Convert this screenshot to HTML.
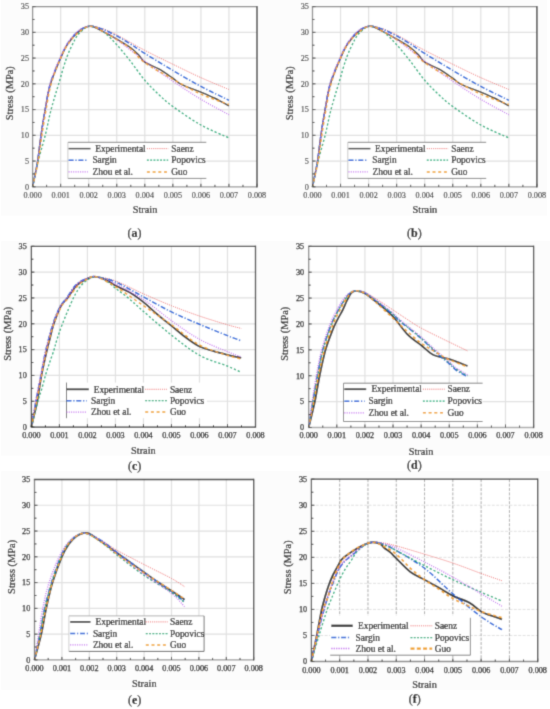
<!DOCTYPE html>
<html><head><meta charset="utf-8"><style>
html,body{margin:0;padding:0;background:#fff;width:550px;height:709px;overflow:hidden}
svg{display:block}
text{font-family:'Liberation Serif', 'Times New Roman', serif;fill:#111;stroke:#111;stroke-width:0.22px}
.tl{fill:#2a2a2a;stroke:#2a2a2a;stroke-width:0.1px}
.tl2{fill:#111;stroke:#111;stroke-width:0.25px}
</style></head><body>
<svg width="550" height="709" viewBox="0 0 550 709">
<defs><filter id="bl" x="0" y="0" width="550" height="709" filterUnits="userSpaceOnUse"><feConvolveMatrix order="3" kernelMatrix="0.0225 0.1050 0.0225 0.1050 0.4900 0.1050 0.0225 0.1050 0.0225" preserveAlpha="true" edgeMode="duplicate"/></filter></defs>
<g filter="url(#bl)">
<rect x="0" y="0" width="550" height="709" fill="#fff"/>
<rect x="1" y="0" width="280" height="215.5" fill="#fcfcfc"/>
<rect x="281" y="0" width="266" height="215.5" fill="#fcfcfc"/>
<rect x="1" y="241" width="280" height="214.5" fill="#fcfcfc"/>
<rect x="281" y="241" width="269" height="214.5" fill="#fcfcfc"/>
<rect x="1" y="471" width="280" height="219" fill="#fcfcfc"/>
<rect x="281" y="471" width="269" height="219" fill="#fcfcfc"/>
<rect x="32.60" y="6.60" width="224.40" height="180.20" fill="#fff"/>
<path d="M32.60,161.06H257.00M32.60,135.31H257.00M32.60,109.57H257.00M32.60,83.83H257.00M32.60,58.09H257.00M32.60,32.34H257.00" stroke="#e0e0e0" stroke-width="1.2" stroke-dasharray="none" fill="none"/>
<path d="M60.65,6.60V186.80M88.70,6.60V186.80M116.75,6.60V186.80M144.80,6.60V186.80M172.85,6.60V186.80M200.90,6.60V186.80M228.95,6.60V186.80" stroke="#e0e0e0" stroke-width="1.2" stroke-dasharray="none" fill="none"/>
<path d="M32.60,186.80 C33.44,182.51 36.25,169.64 37.65,161.06 C39.05,152.48 39.75,143.90 41.02,135.31 C42.28,126.73 43.63,118.15 45.22,109.57 C46.81,100.99 47.98,92.41 50.55,83.83 C53.12,75.25 57.75,64.78 60.65,58.09 C63.55,51.39 64.90,48.13 67.94,43.67 C70.98,39.21 75.19,34.23 78.88,31.31 C82.58,28.40 86.13,26.16 90.10,26.16 C94.08,26.16 98.28,29.17 102.72,31.31 C107.17,33.46 112.08,36.29 116.75,39.04 C121.42,41.78 127.04,45.04 130.78,47.79 C134.52,50.53 136.85,53.11 139.19,55.51 C141.53,57.91 141.53,59.97 144.80,62.20 C148.07,64.44 154.15,66.24 158.83,68.90 C163.50,71.56 169.11,75.59 172.85,78.17 C176.59,80.74 176.59,82.03 181.26,84.34 C185.94,86.66 195.29,89.75 200.90,92.07 C206.51,94.38 210.25,95.93 214.93,98.24 C219.60,100.56 226.61,104.68 228.95,105.97" stroke="#303030" stroke-width="1.45" fill="none" stroke-linejoin="round"/>
<path d="M32.60,186.80 C33.44,182.51 36.25,169.64 37.65,161.06 C39.05,152.48 39.75,143.90 41.02,135.31 C42.28,126.73 43.68,118.15 45.22,109.57 C46.77,100.99 47.75,92.41 50.27,83.83 C52.80,75.25 57.47,64.78 60.37,58.09 C63.27,51.39 64.67,48.13 67.66,43.67 C70.65,39.21 74.58,34.23 78.32,31.31 C82.06,28.40 86.04,26.59 90.10,26.16 C94.17,25.74 98.28,27.28 102.72,28.74 C107.17,30.20 109.74,31.31 116.75,34.92 C123.76,38.52 135.45,45.47 144.80,50.36 C154.15,55.25 163.50,59.72 172.85,64.26 C182.20,68.81 191.55,73.45 200.90,77.65 C210.25,81.85 224.27,87.52 228.95,89.49" stroke="#ec5656" stroke-width="0.9" stroke-dasharray="1 1.1" fill="none" stroke-linejoin="round"/>
<path d="M32.60,186.80 C33.44,182.51 36.25,169.64 37.65,161.06 C39.05,152.48 39.75,143.90 41.02,135.31 C42.28,126.73 43.68,118.15 45.22,109.57 C46.77,100.99 47.75,92.41 50.27,83.83 C52.80,75.25 57.47,64.78 60.37,58.09 C63.27,51.39 64.67,48.13 67.66,43.67 C70.65,39.21 74.58,34.23 78.32,31.31 C82.06,28.40 86.04,26.51 90.10,26.16 C94.17,25.82 98.28,27.62 102.72,29.25 C107.17,30.88 112.08,33.46 116.75,35.95 C121.42,38.44 126.10,41.27 130.78,44.18 C135.45,47.10 137.79,49.08 144.80,53.45 C151.81,57.83 163.50,64.95 172.85,70.44 C182.20,75.93 191.55,81.43 200.90,86.40 C210.25,91.38 224.27,97.99 228.95,100.30" stroke="#0f5fd8" stroke-width="1.5" stroke-dasharray="5 1.8 1.2 1.8" fill="none" stroke-linejoin="round"/>
<path d="M32.60,186.80 C33.54,182.51 36.11,169.64 38.21,161.06 C40.31,152.48 43.07,143.90 45.22,135.31 C47.37,126.73 48.87,118.15 51.11,109.57 C53.36,100.99 56.12,92.41 58.69,83.83 C61.26,75.25 63.88,65.38 66.54,58.09 C69.21,50.79 72.38,44.36 74.68,40.07 C76.97,35.78 77.71,34.66 80.28,32.34 C82.86,30.03 86.36,26.34 90.10,26.16 C93.84,25.99 98.28,28.22 102.72,31.31 C107.17,34.40 112.08,39.64 116.75,44.70 C121.42,49.76 126.10,55.77 130.78,61.69 C135.45,67.61 140.12,74.73 144.80,80.22 C149.48,85.72 154.15,90.26 158.83,94.64 C163.50,99.02 165.84,101.42 172.85,106.48 C179.86,111.55 191.55,119.78 200.90,125.02 C210.25,130.25 224.27,135.74 228.95,137.89" stroke="#06a870" stroke-width="1.3" stroke-dasharray="2.2 2" fill="none" stroke-linejoin="round"/>
<path d="M32.60,186.80 C33.44,182.51 36.25,169.64 37.65,161.06 C39.05,152.48 39.75,143.90 41.02,135.31 C42.28,126.73 43.73,118.15 45.22,109.57 C46.72,100.99 47.56,92.41 49.99,83.83 C52.42,75.25 56.96,64.78 59.81,58.09 C62.66,51.39 64.11,48.13 67.10,43.67 C70.09,39.21 73.93,34.23 77.76,31.31 C81.59,28.40 85.94,26.25 90.10,26.16 C94.26,26.08 98.28,28.57 102.72,30.80 C107.17,33.03 109.74,34.49 116.75,39.55 C123.76,44.61 135.45,54.22 144.80,61.17 C154.15,68.13 163.50,74.90 172.85,81.25 C182.20,87.60 191.55,93.70 200.90,99.27 C210.25,104.85 224.27,112.15 228.95,114.72" stroke="#bf5fee" stroke-width="1.2" stroke-dasharray="1 1.3" fill="none" stroke-linejoin="round"/>
<path d="M32.60,186.80 C33.54,182.51 36.67,169.64 38.21,161.06 C39.75,152.48 40.55,143.90 41.86,135.31 C43.17,126.73 44.52,118.15 46.06,109.57 C47.61,100.99 48.68,92.41 51.11,83.83 C53.54,75.25 57.89,64.61 60.65,58.09 C63.41,51.56 64.86,48.82 67.66,44.70 C70.47,40.58 73.74,36.46 77.48,33.37 C81.22,30.28 85.90,26.51 90.10,26.16 C94.31,25.82 98.28,29.08 102.72,31.31 C107.17,33.54 112.08,36.63 116.75,39.55 C121.42,42.47 126.10,44.96 130.78,48.82 C135.45,52.68 137.79,57.66 144.80,62.72 C151.81,67.78 163.50,73.96 172.85,79.19 C182.20,84.43 191.55,89.92 200.90,94.13 C210.25,98.33 224.27,102.71 228.95,104.42" stroke="#f0a020" stroke-width="1.5" stroke-dasharray="3 2.7" fill="none" stroke-linejoin="round"/>
<rect x="67.90" y="142.30" width="138.40" height="36.10" fill="#fff"/>
<path d="M67.90,142.30H206.30" stroke="#808080" stroke-width="1" fill="none"/>
<path d="M67.90,178.40H206.30" stroke="#808080" stroke-width="1" fill="none"/>
<path d="M67.90,142.30V178.40" stroke="#c4c4c4" stroke-width="0.9" fill="none"/>
<path d="M68.60,148.60H90.50" stroke="#303030" stroke-width="1.45" fill="none"/>
<text x="95.20" y="151.80" font-size="9.4">Experimental</text>
<path d="M146.90,148.60H168.20" stroke="#ec5656" stroke-width="0.9" stroke-dasharray="1 1.1" fill="none"/>
<text x="171.30" y="151.80" font-size="9.4">Saenz</text>
<path d="M68.60,160.20H87.80" stroke="#0f5fd8" stroke-width="1.5" stroke-dasharray="5 1.8 1.2 1.8" fill="none"/>
<text x="92.40" y="163.40" font-size="9.4">Sargin</text>
<path d="M146.90,160.20H168.20" stroke="#06a870" stroke-width="1.3" stroke-dasharray="1.9 1.4" fill="none"/>
<text x="171.30" y="163.40" font-size="9.4">Popovics</text>
<path d="M68.60,171.90H87.80" stroke="#bf5fee" stroke-width="1.2" stroke-dasharray="1 1.3" fill="none"/>
<text x="92.60" y="175.10" font-size="9.4">Zhou et al.</text>
<path d="M146.90,171.90H168.20" stroke="#f0a020" stroke-width="1.5" stroke-dasharray="3 2.7" fill="none"/>
<text x="171.30" y="175.10" font-size="9.4">Guo</text>
<path d="M31.95,6.60H257.00" stroke="#858585" stroke-width="1.3" fill="none"/>
<path d="M31.95,186.80H257.00" stroke="#999" stroke-width="1.3" fill="none"/>
<path d="M32.60,6.60V186.80" stroke="#8a8a8a" stroke-width="1.3" fill="none"/>
<path d="M257.00,5.95V187.45" stroke="#5a5a5a" stroke-width="1.7" fill="none"/>
<path d="M32.60,186.80v-3.00M46.62,186.80v-2.00M60.65,186.80v-3.00M74.68,186.80v-2.00M88.70,186.80v-3.00M102.72,186.80v-2.00M116.75,186.80v-3.00M130.78,186.80v-2.00M144.80,186.80v-3.00M158.83,186.80v-2.00M172.85,186.80v-3.00M186.88,186.80v-2.00M200.90,186.80v-3.00M214.93,186.80v-2.00M228.95,186.80v-3.00M242.97,186.80v-2.00M257.00,186.80v-3.00M32.60,186.80h3.00M32.60,173.93h2.00M32.60,161.06h3.00M32.60,148.19h2.00M32.60,135.31h3.00M32.60,122.44h2.00M32.60,109.57h3.00M32.60,96.70h2.00M32.60,83.83h3.00M32.60,70.96h2.00M32.60,58.09h3.00M32.60,45.21h2.00M32.60,32.34h3.00M32.60,19.47h2.00M32.60,6.60h3.00" stroke="#333" stroke-width="1" fill="none"/>
<text x="29.00" y="189.60" font-size="8.2" text-anchor="end" class="tl">0</text>
<text x="29.00" y="163.86" font-size="8.2" text-anchor="end" class="tl">5</text>
<text x="29.00" y="138.11" font-size="8.2" text-anchor="end" class="tl">10</text>
<text x="29.00" y="112.37" font-size="8.2" text-anchor="end" class="tl">15</text>
<text x="29.00" y="86.63" font-size="8.2" text-anchor="end" class="tl">20</text>
<text x="29.00" y="60.89" font-size="8.2" text-anchor="end" class="tl">25</text>
<text x="29.00" y="35.14" font-size="8.2" text-anchor="end" class="tl">30</text>
<text x="29.00" y="9.40" font-size="8.2" text-anchor="end" class="tl">35</text>
<text x="32.60" y="197.50" font-size="8.2" text-anchor="middle" class="tl">0.000</text>
<text x="60.65" y="197.50" font-size="8.2" text-anchor="middle" class="tl">0.001</text>
<text x="88.70" y="197.50" font-size="8.2" text-anchor="middle" class="tl">0.002</text>
<text x="116.75" y="197.50" font-size="8.2" text-anchor="middle" class="tl">0.003</text>
<text x="144.80" y="197.50" font-size="8.2" text-anchor="middle" class="tl">0.004</text>
<text x="172.85" y="197.50" font-size="8.2" text-anchor="middle" class="tl">0.005</text>
<text x="200.90" y="197.50" font-size="8.2" text-anchor="middle" class="tl">0.006</text>
<text x="228.95" y="197.50" font-size="8.2" text-anchor="middle" class="tl">0.007</text>
<text x="257.00" y="197.50" font-size="8.2" text-anchor="middle" class="tl">0.008</text>
<text transform="translate(12.70,93.20) rotate(-90)" font-size="10.4" text-anchor="middle">Stress (MPa)</text>
<text x="145.00" y="213.00" font-size="10.3" text-anchor="middle">Strain</text>
<text x="134.60" y="237.40" font-size="12" text-anchor="middle">(<tspan font-weight="bold">a</tspan>)</text>
<rect x="312.50" y="6.60" width="224.40" height="180.20" fill="#fff"/>
<path d="M312.50,161.06H536.90M312.50,135.31H536.90M312.50,109.57H536.90M312.50,83.83H536.90M312.50,58.09H536.90M312.50,32.34H536.90" stroke="#e0e0e0" stroke-width="1.2" stroke-dasharray="none" fill="none"/>
<path d="M340.55,6.60V186.80M368.60,6.60V186.80M396.65,6.60V186.80M424.70,6.60V186.80M452.75,6.60V186.80M480.80,6.60V186.80M508.85,6.60V186.80" stroke="#e0e0e0" stroke-width="1.2" stroke-dasharray="none" fill="none"/>
<path d="M312.50,186.80 C313.34,182.51 316.15,169.64 317.55,161.06 C318.95,152.48 319.65,143.90 320.92,135.31 C322.18,126.73 323.53,118.15 325.12,109.57 C326.71,100.99 327.88,92.41 330.45,83.83 C333.02,75.25 337.65,64.78 340.55,58.09 C343.45,51.39 344.80,48.13 347.84,43.67 C350.88,39.21 355.09,34.23 358.78,31.31 C362.48,28.40 366.03,26.16 370.00,26.16 C373.98,26.16 378.18,29.17 382.62,31.31 C387.07,33.46 391.97,36.29 396.65,39.04 C401.32,41.78 406.93,45.04 410.67,47.79 C414.41,50.53 416.75,53.11 419.09,55.51 C421.43,57.91 421.43,59.97 424.70,62.20 C427.97,64.44 434.05,66.24 438.73,68.90 C443.40,71.56 449.01,75.59 452.75,78.17 C456.49,80.74 456.49,82.03 461.16,84.34 C465.84,86.66 475.19,89.75 480.80,92.07 C486.41,94.38 490.15,95.93 494.82,98.24 C499.50,100.56 506.51,104.68 508.85,105.97" stroke="#303030" stroke-width="1.45" fill="none" stroke-linejoin="round"/>
<path d="M312.50,186.80 C313.34,182.51 316.15,169.64 317.55,161.06 C318.95,152.48 319.65,143.90 320.92,135.31 C322.18,126.73 323.58,118.15 325.12,109.57 C326.67,100.99 327.65,92.41 330.17,83.83 C332.70,75.25 337.37,64.78 340.27,58.09 C343.17,51.39 344.57,48.13 347.56,43.67 C350.55,39.21 354.48,34.23 358.22,31.31 C361.96,28.40 365.94,26.59 370.00,26.16 C374.07,25.74 378.18,27.28 382.62,28.74 C387.07,30.20 389.64,31.31 396.65,34.92 C403.66,38.52 415.35,45.47 424.70,50.36 C434.05,55.25 443.40,59.72 452.75,64.26 C462.10,68.81 471.45,73.45 480.80,77.65 C490.15,81.85 504.17,87.52 508.85,89.49" stroke="#ec5656" stroke-width="0.9" stroke-dasharray="1 1.1" fill="none" stroke-linejoin="round"/>
<path d="M312.50,186.80 C313.34,182.51 316.15,169.64 317.55,161.06 C318.95,152.48 319.65,143.90 320.92,135.31 C322.18,126.73 323.58,118.15 325.12,109.57 C326.67,100.99 327.65,92.41 330.17,83.83 C332.70,75.25 337.37,64.78 340.27,58.09 C343.17,51.39 344.57,48.13 347.56,43.67 C350.55,39.21 354.48,34.23 358.22,31.31 C361.96,28.40 365.94,26.51 370.00,26.16 C374.07,25.82 378.18,27.62 382.62,29.25 C387.07,30.88 391.97,33.46 396.65,35.95 C401.32,38.44 406.00,41.27 410.67,44.18 C415.35,47.10 417.69,49.08 424.70,53.45 C431.71,57.83 443.40,64.95 452.75,70.44 C462.10,75.93 471.45,81.43 480.80,86.40 C490.15,91.38 504.17,97.99 508.85,100.30" stroke="#0f5fd8" stroke-width="1.5" stroke-dasharray="5 1.8 1.2 1.8" fill="none" stroke-linejoin="round"/>
<path d="M312.50,186.80 C313.44,182.51 316.01,169.64 318.11,161.06 C320.21,152.48 322.97,143.90 325.12,135.31 C327.27,126.73 328.77,118.15 331.01,109.57 C333.26,100.99 336.02,92.41 338.59,83.83 C341.16,75.25 343.78,65.38 346.44,58.09 C349.11,50.79 352.28,44.36 354.57,40.07 C356.87,35.78 357.61,34.66 360.19,32.34 C362.76,30.03 366.26,26.34 370.00,26.16 C373.74,25.99 378.18,28.22 382.62,31.31 C387.07,34.40 391.97,39.64 396.65,44.70 C401.32,49.76 406.00,55.77 410.67,61.69 C415.35,67.61 420.02,74.73 424.70,80.22 C429.38,85.72 434.05,90.26 438.73,94.64 C443.40,99.02 445.74,101.42 452.75,106.48 C459.76,111.55 471.45,119.78 480.80,125.02 C490.15,130.25 504.17,135.74 508.85,137.89" stroke="#06a870" stroke-width="1.3" stroke-dasharray="2.2 2" fill="none" stroke-linejoin="round"/>
<path d="M312.50,186.80 C313.34,182.51 316.15,169.64 317.55,161.06 C318.95,152.48 319.65,143.90 320.92,135.31 C322.18,126.73 323.63,118.15 325.12,109.57 C326.62,100.99 327.46,92.41 329.89,83.83 C332.32,75.25 336.86,64.78 339.71,58.09 C342.56,51.39 344.01,48.13 347.00,43.67 C349.99,39.21 353.83,34.23 357.66,31.31 C361.49,28.40 365.84,26.25 370.00,26.16 C374.16,26.08 378.18,28.57 382.62,30.80 C387.07,33.03 389.64,34.49 396.65,39.55 C403.66,44.61 415.35,54.22 424.70,61.17 C434.05,68.13 443.40,74.90 452.75,81.25 C462.10,87.60 471.45,93.70 480.80,99.27 C490.15,104.85 504.17,112.15 508.85,114.72" stroke="#bf5fee" stroke-width="1.2" stroke-dasharray="1 1.3" fill="none" stroke-linejoin="round"/>
<path d="M312.50,186.80 C313.44,182.51 316.57,169.64 318.11,161.06 C319.65,152.48 320.45,143.90 321.76,135.31 C323.07,126.73 324.42,118.15 325.96,109.57 C327.51,100.99 328.58,92.41 331.01,83.83 C333.44,75.25 337.79,64.61 340.55,58.09 C343.31,51.56 344.76,48.82 347.56,44.70 C350.37,40.58 353.64,36.46 357.38,33.37 C361.12,30.28 365.80,26.51 370.00,26.16 C374.21,25.82 378.18,29.08 382.62,31.31 C387.07,33.54 391.97,36.63 396.65,39.55 C401.32,42.47 406.00,44.96 410.67,48.82 C415.35,52.68 417.69,57.66 424.70,62.72 C431.71,67.78 443.40,73.96 452.75,79.19 C462.10,84.43 471.45,89.92 480.80,94.13 C490.15,98.33 504.17,102.71 508.85,104.42" stroke="#f0a020" stroke-width="1.5" stroke-dasharray="3 2.7" fill="none" stroke-linejoin="round"/>
<rect x="347.80" y="142.30" width="138.40" height="36.10" fill="#fff"/>
<path d="M347.80,142.30H486.20" stroke="#808080" stroke-width="1" fill="none"/>
<path d="M347.80,178.40H486.20" stroke="#808080" stroke-width="1" fill="none"/>
<path d="M347.80,142.30V178.40" stroke="#c4c4c4" stroke-width="0.9" fill="none"/>
<path d="M348.50,148.60H370.40" stroke="#303030" stroke-width="1.45" fill="none"/>
<text x="375.10" y="151.80" font-size="9.4">Experimental</text>
<path d="M426.80,148.60H448.10" stroke="#ec5656" stroke-width="0.9" stroke-dasharray="1 1.1" fill="none"/>
<text x="451.20" y="151.80" font-size="9.4">Saenz</text>
<path d="M348.50,160.20H367.70" stroke="#0f5fd8" stroke-width="1.5" stroke-dasharray="5 1.8 1.2 1.8" fill="none"/>
<text x="372.30" y="163.40" font-size="9.4">Sargin</text>
<path d="M426.80,160.20H448.10" stroke="#06a870" stroke-width="1.3" stroke-dasharray="1.9 1.4" fill="none"/>
<text x="451.20" y="163.40" font-size="9.4">Popovics</text>
<path d="M348.50,171.90H367.70" stroke="#bf5fee" stroke-width="1.2" stroke-dasharray="1 1.3" fill="none"/>
<text x="372.50" y="175.10" font-size="9.4">Zhou et al.</text>
<path d="M426.80,171.90H448.10" stroke="#f0a020" stroke-width="1.5" stroke-dasharray="3 2.7" fill="none"/>
<text x="451.20" y="175.10" font-size="9.4">Guo</text>
<path d="M311.85,6.60H536.90" stroke="#858585" stroke-width="1.3" fill="none"/>
<path d="M311.85,186.80H536.90" stroke="#999" stroke-width="1.3" fill="none"/>
<path d="M312.50,6.60V186.80" stroke="#8a8a8a" stroke-width="1.3" fill="none"/>
<path d="M536.90,5.95V187.45" stroke="#5a5a5a" stroke-width="1.7" fill="none"/>
<path d="M312.50,186.80v-3.00M326.52,186.80v-2.00M340.55,186.80v-3.00M354.57,186.80v-2.00M368.60,186.80v-3.00M382.62,186.80v-2.00M396.65,186.80v-3.00M410.67,186.80v-2.00M424.70,186.80v-3.00M438.73,186.80v-2.00M452.75,186.80v-3.00M466.77,186.80v-2.00M480.80,186.80v-3.00M494.82,186.80v-2.00M508.85,186.80v-3.00M522.88,186.80v-2.00M536.90,186.80v-3.00M312.50,186.80h3.00M312.50,173.93h2.00M312.50,161.06h3.00M312.50,148.19h2.00M312.50,135.31h3.00M312.50,122.44h2.00M312.50,109.57h3.00M312.50,96.70h2.00M312.50,83.83h3.00M312.50,70.96h2.00M312.50,58.09h3.00M312.50,45.21h2.00M312.50,32.34h3.00M312.50,19.47h2.00M312.50,6.60h3.00" stroke="#333" stroke-width="1" fill="none"/>
<text x="308.90" y="189.60" font-size="8.2" text-anchor="end" class="tl">0</text>
<text x="308.90" y="163.86" font-size="8.2" text-anchor="end" class="tl">5</text>
<text x="308.90" y="138.11" font-size="8.2" text-anchor="end" class="tl">10</text>
<text x="308.90" y="112.37" font-size="8.2" text-anchor="end" class="tl">15</text>
<text x="308.90" y="86.63" font-size="8.2" text-anchor="end" class="tl">20</text>
<text x="308.90" y="60.89" font-size="8.2" text-anchor="end" class="tl">25</text>
<text x="308.90" y="35.14" font-size="8.2" text-anchor="end" class="tl">30</text>
<text x="308.90" y="9.40" font-size="8.2" text-anchor="end" class="tl">35</text>
<text x="312.50" y="197.50" font-size="8.2" text-anchor="middle" class="tl">0.000</text>
<text x="340.55" y="197.50" font-size="8.2" text-anchor="middle" class="tl">0.001</text>
<text x="368.60" y="197.50" font-size="8.2" text-anchor="middle" class="tl">0.002</text>
<text x="396.65" y="197.50" font-size="8.2" text-anchor="middle" class="tl">0.003</text>
<text x="424.70" y="197.50" font-size="8.2" text-anchor="middle" class="tl">0.004</text>
<text x="452.75" y="197.50" font-size="8.2" text-anchor="middle" class="tl">0.005</text>
<text x="480.80" y="197.50" font-size="8.2" text-anchor="middle" class="tl">0.006</text>
<text x="508.85" y="197.50" font-size="8.2" text-anchor="middle" class="tl">0.007</text>
<text x="536.90" y="197.50" font-size="8.2" text-anchor="middle" class="tl">0.008</text>
<text transform="translate(292.60,93.20) rotate(-90)" font-size="10.4" text-anchor="middle">Stress (MPa)</text>
<text x="424.90" y="213.00" font-size="10.3" text-anchor="middle">Strain</text>
<text x="414.45" y="236.60" font-size="12" text-anchor="middle">(<tspan font-weight="bold">b</tspan>)</text>
<rect x="31.40" y="246.30" width="224.10" height="180.80" fill="#fff"/>
<path d="M31.40,401.27H255.50M31.40,375.44H255.50M31.40,349.61H255.50M31.40,323.79H255.50M31.40,297.96H255.50M31.40,272.13H255.50" stroke="#e0e0e0" stroke-width="1.2" stroke-dasharray="none" fill="none"/>
<path d="M59.41,246.30V427.10M87.42,246.30V427.10M115.44,246.30V427.10M143.45,246.30V427.10M171.46,246.30V427.10M199.47,246.30V427.10M227.49,246.30V427.10" stroke="#e0e0e0" stroke-width="1.2" stroke-dasharray="none" fill="none"/>
<path d="M31.40,427.10 C31.82,425.21 32.94,420.04 33.92,415.74 C34.90,411.43 36.02,407.99 37.28,401.27 C38.54,394.56 39.85,384.05 41.48,375.44 C43.12,366.83 45.73,355.55 47.09,349.61 C48.44,343.67 48.49,344.10 49.61,339.80 C50.73,335.49 51.94,329.38 53.81,323.79 C55.68,318.19 58.53,310.53 60.81,306.22 C63.10,301.92 64.83,301.49 67.54,297.96 C70.24,294.43 73.65,288.31 77.06,285.04 C80.47,281.77 84.81,279.70 87.99,278.33 C91.16,276.95 92.93,276.43 96.11,276.78 C99.28,277.12 103.81,278.93 107.03,280.39 C110.26,281.86 111.70,283.58 115.44,285.56 C119.17,287.54 124.77,289.52 129.44,292.27 C134.11,295.03 138.78,298.39 143.45,302.09 C148.12,305.79 152.79,310.53 157.46,314.49 C162.12,318.45 166.79,322.06 171.46,325.85 C176.13,329.64 180.80,333.77 185.47,337.22 C190.14,340.66 194.81,344.19 199.47,346.51 C204.14,348.84 208.81,349.79 213.48,351.16 C218.15,352.54 222.87,353.66 227.49,354.78 C232.11,355.90 238.93,357.36 241.21,357.88" stroke="#303030" stroke-width="1.8" fill="none" stroke-linejoin="round"/>
<path d="M31.40,427.10 C32.15,422.80 34.29,409.88 35.88,401.27 C37.47,392.66 39.24,384.05 40.92,375.44 C42.61,366.83 43.96,358.22 45.97,349.61 C47.97,341.00 50.59,331.02 52.97,323.79 C55.35,316.55 57.97,310.53 60.25,306.22 C62.54,301.92 64.03,301.57 66.70,297.96 C69.36,294.34 72.77,287.80 76.22,284.53 C79.67,281.25 84.11,279.62 87.42,278.33 C90.74,277.04 91.44,276.35 96.11,276.78 C100.78,277.21 107.55,278.07 115.44,280.91 C123.33,283.75 134.11,289.69 143.45,293.82 C152.79,297.96 162.12,302.00 171.46,305.71 C180.80,309.41 190.14,312.85 199.47,316.04 C208.81,319.22 220.53,322.75 227.49,324.82 C234.44,326.89 238.93,327.83 241.21,328.43" stroke="#ec5656" stroke-width="0.9" stroke-dasharray="1 1.1" fill="none" stroke-linejoin="round"/>
<path d="M31.40,427.10 C32.15,422.80 34.29,409.88 35.88,401.27 C37.47,392.66 39.24,384.05 40.92,375.44 C42.61,366.83 43.96,358.22 45.97,349.61 C47.97,341.00 50.59,331.02 52.97,323.79 C55.35,316.55 57.97,310.53 60.25,306.22 C62.54,301.92 64.03,301.57 66.70,297.96 C69.36,294.34 72.77,287.80 76.22,284.53 C79.67,281.25 84.11,279.62 87.42,278.33 C90.74,277.04 91.44,276.18 96.11,276.78 C100.78,277.38 107.55,278.59 115.44,281.94 C123.33,285.30 134.11,291.93 143.45,296.92 C152.79,301.92 162.12,307.34 171.46,311.90 C180.80,316.47 190.14,320.34 199.47,324.30 C208.81,328.26 220.53,332.91 227.49,335.67 C234.44,338.42 238.93,339.97 241.21,340.83" stroke="#0f5fd8" stroke-width="1.5" stroke-dasharray="5 1.8 1.2 1.8" fill="none" stroke-linejoin="round"/>
<path d="M31.40,427.10 C32.47,422.80 36.16,407.47 37.84,401.27 C39.52,395.07 40.22,394.21 41.48,389.91 C42.75,385.60 44.05,380.01 45.41,375.44 C46.76,370.88 48.16,366.83 49.61,362.53 C51.06,358.22 52.88,353.40 54.09,349.61 C55.30,345.83 55.49,344.10 56.89,339.80 C58.29,335.49 59.74,330.76 62.49,323.79 C65.25,316.81 70.24,304.41 73.42,297.96 C76.59,291.50 78.74,288.31 81.54,285.04 C84.34,281.77 87.80,279.70 90.23,278.33 C92.65,276.95 93.77,276.61 96.11,276.78 C98.44,276.95 101.01,277.47 104.23,279.36 C107.45,281.25 111.24,284.87 115.44,288.14 C119.64,291.41 124.77,295.12 129.44,298.99 C134.11,302.86 136.45,305.36 143.45,311.39 C150.45,317.41 162.12,327.83 171.46,335.15 C180.80,342.47 190.14,350.13 199.47,355.30 C208.81,360.46 220.53,363.30 227.49,366.14 C234.44,368.99 238.93,371.31 241.21,372.34" stroke="#06a870" stroke-width="1.3" stroke-dasharray="2.2 2" fill="none" stroke-linejoin="round"/>
<path d="M31.40,427.10 C32.10,422.80 34.06,409.88 35.60,401.27 C37.14,392.66 38.92,384.05 40.64,375.44 C42.37,366.83 43.87,358.22 45.97,349.61 C48.07,341.00 50.82,331.02 53.25,323.79 C55.68,316.55 58.25,310.53 60.53,306.22 C62.82,301.92 64.36,301.49 66.98,297.96 C69.59,294.43 72.81,288.31 76.22,285.04 C79.63,281.77 84.11,279.70 87.42,278.33 C90.74,276.95 91.44,275.83 96.11,276.78 C100.78,277.72 107.55,280.22 115.44,284.01 C123.33,287.80 134.11,293.39 143.45,299.51 C152.79,305.62 162.12,314.06 171.46,320.69 C180.80,327.32 190.14,334.12 199.47,339.28 C208.81,344.45 220.53,348.75 227.49,351.68 C234.44,354.61 238.93,355.99 241.21,356.85" stroke="#bf5fee" stroke-width="1.2" stroke-dasharray="1 1.3" fill="none" stroke-linejoin="round"/>
<path d="M31.40,427.10 C32.29,422.80 35.04,409.88 36.72,401.27 C38.40,392.66 39.80,384.05 41.48,375.44 C43.17,366.83 44.75,358.22 46.81,349.61 C48.86,341.00 51.34,331.02 53.81,323.79 C56.28,316.55 59.23,310.53 61.65,306.22 C64.08,301.92 65.58,301.49 68.38,297.96 C71.18,294.43 75.05,288.31 78.46,285.04 C81.87,281.77 85.88,279.70 88.83,278.33 C91.77,276.95 91.67,275.40 96.11,276.78 C100.54,278.16 107.55,281.77 115.44,286.59 C123.33,291.41 134.11,299.33 143.45,305.71 C152.79,312.08 162.12,318.28 171.46,324.82 C180.80,331.36 190.14,339.89 199.47,344.97 C208.81,350.04 220.53,352.97 227.49,355.30 C234.44,357.62 238.93,358.31 241.21,358.91" stroke="#f0a020" stroke-width="1.5" stroke-dasharray="3 2.7" fill="none" stroke-linejoin="round"/>
<rect x="66.50" y="382.60" width="140.50" height="35.60" fill="#fff"/>
<path d="M66.50,382.60V418.20" stroke="#555" stroke-width="0.9" fill="none"/>
<path d="M66.50,389.30H88.80" stroke="#303030" stroke-width="1.8" fill="none"/>
<text x="93.70" y="392.50" font-size="9.4">Experimental</text>
<path d="M145.20,389.30H167.00" stroke="#ec5656" stroke-width="0.9" stroke-dasharray="1 1.1" fill="none"/>
<text x="169.90" y="392.50" font-size="9.4">Saenz</text>
<path d="M66.50,400.70H86.70" stroke="#0f5fd8" stroke-width="1.5" stroke-dasharray="5 1.8 1.2 1.8" fill="none"/>
<text x="91.00" y="403.90" font-size="9.4">Sargin</text>
<path d="M145.20,400.70H167.00" stroke="#06a870" stroke-width="1.3" stroke-dasharray="1.9 1.4" fill="none"/>
<text x="169.90" y="403.90" font-size="9.4">Popovics</text>
<path d="M66.50,412.10H86.70" stroke="#bf5fee" stroke-width="1.2" stroke-dasharray="1 1.3" fill="none"/>
<text x="91.00" y="415.30" font-size="9.4">Zhou et al.</text>
<path d="M145.20,412.10H167.00" stroke="#f0a020" stroke-width="1.5" stroke-dasharray="3 2.7" fill="none"/>
<text x="169.90" y="415.30" font-size="9.4">Guo</text>
<path d="M30.75,246.30H255.50" stroke="#333" stroke-width="1.3" fill="none"/>
<path d="M30.75,427.10H255.50" stroke="#333" stroke-width="1.3" fill="none"/>
<path d="M31.40,246.30V427.10" stroke="#333" stroke-width="1.3" fill="none"/>
<path d="M255.50,245.65V427.75" stroke="#333" stroke-width="1.3" fill="none"/>
<path d="M31.40,427.10v-3.00M45.41,427.10v-2.00M59.41,427.10v-3.00M73.42,427.10v-2.00M87.42,427.10v-3.00M101.43,427.10v-2.00M115.44,427.10v-3.00M129.44,427.10v-2.00M143.45,427.10v-3.00M157.46,427.10v-2.00M171.46,427.10v-3.00M185.47,427.10v-2.00M199.47,427.10v-3.00M213.48,427.10v-2.00M227.49,427.10v-3.00M241.49,427.10v-2.00M255.50,427.10v-3.00M31.40,427.10h3.00M31.40,414.19h2.00M31.40,401.27h3.00M31.40,388.36h2.00M31.40,375.44h3.00M31.40,362.53h2.00M31.40,349.61h3.00M31.40,336.70h2.00M31.40,323.79h3.00M31.40,310.87h2.00M31.40,297.96h3.00M31.40,285.04h2.00M31.40,272.13h3.00M31.40,259.21h2.00M31.40,246.30h3.00" stroke="#222" stroke-width="1" fill="none"/>
<text x="26.80" y="429.90" font-size="8.2" text-anchor="end" class="tl2">0</text>
<text x="26.80" y="404.07" font-size="8.2" text-anchor="end" class="tl2">5</text>
<text x="26.80" y="378.24" font-size="8.2" text-anchor="end" class="tl2">10</text>
<text x="26.80" y="352.41" font-size="8.2" text-anchor="end" class="tl2">15</text>
<text x="26.80" y="326.59" font-size="8.2" text-anchor="end" class="tl2">20</text>
<text x="26.80" y="300.76" font-size="8.2" text-anchor="end" class="tl2">25</text>
<text x="26.80" y="274.93" font-size="8.2" text-anchor="end" class="tl2">30</text>
<text x="26.80" y="249.10" font-size="8.2" text-anchor="end" class="tl2">35</text>
<text x="31.40" y="437.80" font-size="8.2" text-anchor="middle" class="tl2">0.000</text>
<text x="59.41" y="437.80" font-size="8.2" text-anchor="middle" class="tl2">0.001</text>
<text x="87.42" y="437.80" font-size="8.2" text-anchor="middle" class="tl2">0.002</text>
<text x="115.44" y="437.80" font-size="8.2" text-anchor="middle" class="tl2">0.003</text>
<text x="143.45" y="437.80" font-size="8.2" text-anchor="middle" class="tl2">0.004</text>
<text x="171.46" y="437.80" font-size="8.2" text-anchor="middle" class="tl2">0.005</text>
<text x="199.47" y="437.80" font-size="8.2" text-anchor="middle" class="tl2">0.006</text>
<text x="227.49" y="437.80" font-size="8.2" text-anchor="middle" class="tl2">0.007</text>
<text x="255.50" y="437.80" font-size="8.2" text-anchor="middle" class="tl2">0.008</text>
<text transform="translate(11.40,333.70) rotate(-90)" font-size="10.4" text-anchor="middle">Stress (MPa)</text>
<text x="143.40" y="454.00" font-size="10.3" text-anchor="middle">Strain</text>
<text x="134.70" y="470.20" font-size="12" text-anchor="middle">(<tspan font-weight="bold">c</tspan>)</text>
<rect x="308.70" y="246.30" width="224.90" height="181.20" fill="#fff"/>
<path d="M308.70,401.61H533.60M308.70,375.73H533.60M308.70,349.84H533.60M308.70,323.96H533.60M308.70,298.07H533.60M308.70,272.19H533.60" stroke="#e0e0e0" stroke-width="1.2" stroke-dasharray="none" fill="none"/>
<path d="M336.81,246.30V427.50M364.93,246.30V427.50M393.04,246.30V427.50M421.15,246.30V427.50M449.26,246.30V427.50M477.38,246.30V427.50M505.49,246.30V427.50" stroke="#e0e0e0" stroke-width="1.2" stroke-dasharray="none" fill="none"/>
<path d="M308.70,427.50 C309.73,423.19 313.06,410.24 314.88,401.61 C316.71,392.99 317.88,384.36 319.66,375.73 C321.44,367.10 323.41,357.44 325.57,349.84 C327.72,342.25 330.63,335.17 332.60,330.17 C334.56,325.17 335.69,323.18 337.37,319.82 C339.06,316.45 341.08,313.26 342.72,309.98 C344.36,306.70 345.76,302.99 347.21,300.14 C348.67,297.29 349.98,294.45 351.43,292.89 C352.88,291.34 353.68,290.74 355.93,290.82 C358.18,290.91 361.08,291.17 364.93,293.41 C368.77,295.66 374.30,300.40 378.98,304.28 C383.67,308.17 388.31,311.70 393.04,316.71 C397.77,321.71 402.69,329.57 407.37,334.31 C412.06,339.06 416.79,341.73 421.15,345.18 C425.51,348.63 428.83,352.69 433.52,355.02 C438.20,357.35 443.59,357.35 449.26,359.16 C454.93,360.97 464.49,364.77 467.54,365.89" stroke="#303030" stroke-width="1.8" fill="none" stroke-linejoin="round"/>
<path d="M308.70,427.50 C309.40,423.19 311.46,410.24 312.92,401.61 C314.37,392.99 315.77,384.36 317.41,375.73 C319.05,367.10 320.41,358.47 322.76,349.84 C325.10,341.21 328.61,331.03 331.47,323.96 C334.33,316.88 337.52,311.70 339.90,307.39 C342.29,303.08 343.98,300.57 345.81,298.07 C347.64,295.57 349.18,293.58 350.87,292.38 C352.56,291.17 353.59,290.82 355.93,290.82 C358.27,290.82 361.08,290.74 364.93,292.38 C368.77,294.02 374.30,297.73 378.98,300.66 C383.67,303.59 388.35,306.87 393.04,309.98 C397.72,313.09 402.41,316.28 407.09,319.30 C411.78,322.32 414.12,324.30 421.15,328.10 C428.18,331.90 441.53,338.28 449.26,342.08 C456.99,345.87 464.49,349.41 467.54,350.88" stroke="#ec5656" stroke-width="0.9" stroke-dasharray="1 1.1" fill="none" stroke-linejoin="round"/>
<path d="M308.70,427.50 C309.40,423.19 311.46,410.24 312.92,401.61 C314.37,392.99 315.77,384.36 317.41,375.73 C319.05,367.10 320.41,358.47 322.76,349.84 C325.10,341.21 328.61,331.03 331.47,323.96 C334.33,316.88 337.52,311.70 339.90,307.39 C342.29,303.08 343.98,300.57 345.81,298.07 C347.64,295.57 349.18,293.58 350.87,292.38 C352.56,291.17 353.59,290.74 355.93,290.82 C358.27,290.91 361.08,290.82 364.93,292.89 C368.77,294.97 374.30,299.62 378.98,303.25 C383.67,306.87 389.52,311.62 393.04,314.64 C396.55,317.66 397.72,319.30 400.07,321.37 C402.41,323.44 403.58,324.22 407.09,327.06 C410.61,329.91 416.46,334.31 421.15,338.45 C425.84,342.59 430.52,347.69 435.21,351.91 C439.89,356.14 445.80,360.80 449.26,363.82 C452.73,366.84 452.96,367.88 456.01,370.03 C459.06,372.19 465.61,375.64 467.54,376.76" stroke="#0f5fd8" stroke-width="1.5" stroke-dasharray="5 1.8 1.2 1.8" fill="none" stroke-linejoin="round"/>
<path d="M308.70,427.50 C309.40,423.19 311.42,410.24 312.92,401.61 C314.42,392.99 316.01,384.36 317.70,375.73 C319.38,367.10 320.69,358.47 323.04,349.84 C325.38,341.21 328.89,331.03 331.75,323.96 C334.61,316.88 337.80,311.70 340.19,307.39 C342.58,303.08 344.31,300.57 346.09,298.07 C347.87,295.57 349.23,293.58 350.87,292.38 C352.51,291.17 353.59,290.74 355.93,290.82 C358.27,290.91 361.08,290.91 364.93,292.89 C368.77,294.88 374.30,299.19 378.98,302.73 C383.67,306.27 389.52,311.10 393.04,314.12 C396.55,317.14 397.72,318.78 400.07,320.85 C402.41,322.92 403.58,323.70 407.09,326.55 C410.61,329.39 416.46,333.88 421.15,337.94 C425.84,341.99 430.52,346.74 435.21,350.88 C439.89,355.02 445.80,359.77 449.26,362.79 C452.73,365.81 452.96,366.84 456.01,369.00 C459.06,371.16 465.61,374.61 467.54,375.73" stroke="#06a870" stroke-width="1.3" stroke-dasharray="2.2 2" fill="none" stroke-linejoin="round"/>
<path d="M308.70,427.50 C309.26,423.19 310.81,410.24 312.07,401.61 C313.34,392.99 314.70,384.36 316.29,375.73 C317.88,367.10 319.34,358.47 321.63,349.84 C323.93,341.21 327.30,331.03 330.07,323.96 C332.83,316.88 335.88,311.70 338.22,307.39 C340.56,303.08 342.06,300.57 344.12,298.07 C346.18,295.57 348.62,293.58 350.59,292.38 C352.56,291.17 353.54,290.82 355.93,290.82 C358.32,290.82 361.08,290.48 364.93,292.38 C368.77,294.27 374.30,298.76 378.98,302.21 C383.67,305.66 389.52,310.15 393.04,313.09 C396.55,316.02 397.72,317.74 400.07,319.82 C402.41,321.89 403.58,322.66 407.09,325.51 C410.61,328.36 416.46,332.84 421.15,336.90 C425.84,340.96 430.52,345.70 435.21,349.84 C439.89,353.98 445.80,358.73 449.26,361.75 C452.73,364.77 452.96,365.81 456.01,367.96 C459.06,370.12 465.61,373.57 467.54,374.69" stroke="#bf5fee" stroke-width="1.2" stroke-dasharray="1 1.3" fill="none" stroke-linejoin="round"/>
<path d="M308.70,427.50 C309.54,423.19 312.12,410.24 313.76,401.61 C315.40,392.99 316.76,384.36 318.54,375.73 C320.32,367.10 322.01,358.47 324.44,349.84 C326.88,341.21 330.35,331.03 333.16,323.96 C335.97,316.88 339.01,311.70 341.31,307.39 C343.61,303.08 345.25,300.57 346.93,298.07 C348.62,295.57 349.93,293.58 351.43,292.38 C352.93,291.17 353.68,290.65 355.93,290.82 C358.18,291.00 361.08,291.00 364.93,293.41 C368.77,295.83 374.30,301.18 378.98,305.32 C383.67,309.46 388.35,313.95 393.04,318.26 C397.72,322.58 402.41,327.06 407.09,331.21 C411.78,335.35 416.46,339.66 421.15,343.11 C425.84,346.56 430.52,349.15 435.21,351.91 C439.89,354.67 443.87,357.18 449.26,359.68 C454.65,362.18 464.49,365.72 467.54,366.93" stroke="#f0a020" stroke-width="1.5" stroke-dasharray="3 2.7" fill="none" stroke-linejoin="round"/>
<rect x="343.50" y="383.20" width="139.10" height="38.30" fill="#fff"/>
<path d="M343.50,383.20H482.60" stroke="#808080" stroke-width="1" fill="none"/>
<path d="M343.50,421.50H482.60" stroke="#808080" stroke-width="1" fill="none"/>
<path d="M343.50,383.20V421.50" stroke="#777" stroke-width="0.9" fill="none"/>
<path d="M344.40,389.20H366.20" stroke="#303030" stroke-width="1.8" fill="none"/>
<text x="371.40" y="392.40" font-size="9.4">Experimental</text>
<path d="M422.90,389.20H444.70" stroke="#ec5656" stroke-width="0.9" stroke-dasharray="1 1.1" fill="none"/>
<text x="447.60" y="392.40" font-size="9.4">Saenz</text>
<path d="M344.40,401.20H364.60" stroke="#0f5fd8" stroke-width="1.5" stroke-dasharray="5 1.8 1.2 1.8" fill="none"/>
<text x="368.50" y="404.40" font-size="9.4">Sargin</text>
<path d="M422.90,401.20H444.70" stroke="#06a870" stroke-width="1.3" stroke-dasharray="1.9 1.4" fill="none"/>
<text x="447.60" y="404.40" font-size="9.4">Popovics</text>
<path d="M344.40,412.80H364.60" stroke="#bf5fee" stroke-width="1.2" stroke-dasharray="1 1.3" fill="none"/>
<text x="368.50" y="416.00" font-size="9.4">Zhou et al.</text>
<path d="M422.90,412.80H444.70" stroke="#f0a020" stroke-width="1.5" stroke-dasharray="3 2.7" fill="none"/>
<text x="447.60" y="416.00" font-size="9.4">Guo</text>
<path d="M308.05,246.30H533.60" stroke="#333" stroke-width="1.3" fill="none"/>
<path d="M308.05,427.50H533.60" stroke="#aaa" stroke-width="1.3" fill="none"/>
<path d="M308.70,246.30V427.50" stroke="#888" stroke-width="1.3" fill="none"/>
<path d="M533.60,245.65V428.15" stroke="#333" stroke-width="1.3" fill="none"/>
<path d="M308.70,427.50v-3.00M322.76,427.50v-2.00M336.81,427.50v-3.00M350.87,427.50v-2.00M364.93,427.50v-3.00M378.98,427.50v-2.00M393.04,427.50v-3.00M407.09,427.50v-2.00M421.15,427.50v-3.00M435.21,427.50v-2.00M449.26,427.50v-3.00M463.32,427.50v-2.00M477.38,427.50v-3.00M491.43,427.50v-2.00M505.49,427.50v-3.00M519.54,427.50v-2.00M533.60,427.50v-3.00M308.70,427.50h3.00M308.70,414.56h2.00M308.70,401.61h3.00M308.70,388.67h2.00M308.70,375.73h3.00M308.70,362.79h2.00M308.70,349.84h3.00M308.70,336.90h2.00M308.70,323.96h3.00M308.70,311.01h2.00M308.70,298.07h3.00M308.70,285.13h2.00M308.70,272.19h3.00M308.70,259.24h2.00M308.70,246.30h3.00" stroke="#333" stroke-width="1" fill="none"/>
<text x="304.20" y="430.30" font-size="8.2" text-anchor="end" class="tl2">0</text>
<text x="304.20" y="404.41" font-size="8.2" text-anchor="end" class="tl2">5</text>
<text x="304.20" y="378.53" font-size="8.2" text-anchor="end" class="tl2">10</text>
<text x="304.20" y="352.64" font-size="8.2" text-anchor="end" class="tl2">15</text>
<text x="304.20" y="326.76" font-size="8.2" text-anchor="end" class="tl2">20</text>
<text x="304.20" y="300.87" font-size="8.2" text-anchor="end" class="tl2">25</text>
<text x="304.20" y="274.99" font-size="8.2" text-anchor="end" class="tl2">30</text>
<text x="304.20" y="249.10" font-size="8.2" text-anchor="end" class="tl2">35</text>
<text x="308.70" y="438.20" font-size="8.2" text-anchor="middle" class="tl2">0.000</text>
<text x="336.81" y="438.20" font-size="8.2" text-anchor="middle" class="tl2">0.001</text>
<text x="364.93" y="438.20" font-size="8.2" text-anchor="middle" class="tl2">0.002</text>
<text x="393.04" y="438.20" font-size="8.2" text-anchor="middle" class="tl2">0.003</text>
<text x="421.15" y="438.20" font-size="8.2" text-anchor="middle" class="tl2">0.004</text>
<text x="449.26" y="438.20" font-size="8.2" text-anchor="middle" class="tl2">0.005</text>
<text x="477.38" y="438.20" font-size="8.2" text-anchor="middle" class="tl2">0.006</text>
<text x="505.49" y="438.20" font-size="8.2" text-anchor="middle" class="tl2">0.007</text>
<text x="533.60" y="438.20" font-size="8.2" text-anchor="middle" class="tl2">0.008</text>
<text transform="translate(288.40,333.70) rotate(-90)" font-size="10.4" text-anchor="middle">Stress (MPa)</text>
<text x="421.10" y="454.60" font-size="10.3" text-anchor="middle">Strain</text>
<text x="414.45" y="468.90" font-size="12" text-anchor="middle">(<tspan font-weight="bold">d</tspan>)</text>
<rect x="34.50" y="479.50" width="219.20" height="180.40" fill="#fff"/>
<path d="M34.50,634.13H253.70M34.50,608.36H253.70M34.50,582.59H253.70M34.50,556.81H253.70M34.50,531.04H253.70M34.50,505.27H253.70" stroke="#e0e0e0" stroke-width="1.2" stroke-dasharray="none" fill="none"/>
<path d="M61.90,479.50V659.90M89.30,479.50V659.90M116.70,479.50V659.90M144.10,479.50V659.90M171.50,479.50V659.90M198.90,479.50V659.90M226.30,479.50V659.90" stroke="#e0e0e0" stroke-width="1.2" stroke-dasharray="none" fill="none"/>
<path d="M34.50,659.90 C35.64,655.60 39.39,642.72 41.35,634.13 C43.31,625.54 44.41,616.95 46.28,608.36 C48.15,599.77 49.98,591.18 52.58,582.59 C55.19,574.00 59.16,563.26 61.90,556.81 C64.64,550.37 66.60,547.36 69.02,543.93 C71.44,540.49 74.00,538.00 76.42,536.20 C78.84,534.39 81.40,533.53 83.55,533.10 C85.69,532.68 86.56,532.33 89.30,533.62 C92.04,534.91 95.42,537.66 99.99,540.84 C104.55,544.01 111.63,549.08 116.70,552.69 C121.77,556.30 125.83,559.22 130.40,562.48 C134.97,565.75 139.53,569.01 144.10,572.28 C148.67,575.54 153.23,578.98 157.80,582.07 C162.37,585.16 167.02,587.91 171.50,590.83 C175.98,593.75 182.46,598.13 184.65,599.59" stroke="#303030" stroke-width="1.7" fill="none" stroke-linejoin="round"/>
<path d="M34.50,659.90 C35.41,655.60 38.29,642.72 39.98,634.13 C41.67,625.54 42.72,616.95 44.64,608.36 C46.56,599.77 48.79,591.18 51.49,582.59 C54.18,574.00 57.70,563.69 60.80,556.81 C63.91,549.94 66.33,545.30 70.12,541.35 C73.91,537.40 78.52,533.36 83.55,533.10 C88.57,532.85 94.73,536.97 100.26,539.81 C105.79,542.64 109.39,545.99 116.70,550.11 C124.01,554.24 134.97,559.82 144.10,564.55 C153.23,569.27 164.74,574.77 171.50,578.46 C178.26,582.16 182.46,585.33 184.65,586.71" stroke="#ec5656" stroke-width="0.9" stroke-dasharray="1 1.1" fill="none" stroke-linejoin="round"/>
<path d="M34.50,659.90 C35.41,655.60 38.29,642.72 39.98,634.13 C41.67,625.54 42.72,616.95 44.64,608.36 C46.56,599.77 48.79,591.18 51.49,582.59 C54.18,574.00 57.70,563.69 60.80,556.81 C63.91,549.94 66.33,545.30 70.12,541.35 C73.91,537.40 78.52,533.36 83.55,533.10 C88.57,532.85 94.73,536.63 100.26,539.81 C105.79,542.98 109.39,546.76 116.70,552.18 C124.01,557.59 134.97,565.75 144.10,572.28 C153.23,578.81 164.74,586.37 171.50,591.35 C178.26,596.33 182.46,600.37 184.65,602.17" stroke="#0f5fd8" stroke-width="1.5" stroke-dasharray="5 1.8 1.2 1.8" fill="none" stroke-linejoin="round"/>
<path d="M34.50,659.90 C35.41,655.60 38.24,642.72 39.98,634.13 C41.72,625.54 42.95,616.95 44.91,608.36 C46.88,599.77 49.07,591.18 51.76,582.59 C54.46,574.00 58.02,563.69 61.08,556.81 C64.14,549.94 66.38,545.30 70.12,541.35 C73.86,537.40 78.52,533.10 83.55,533.10 C88.57,533.10 94.73,537.74 100.26,541.35 C105.79,544.96 109.39,549.08 116.70,554.75 C124.01,560.42 134.97,569.10 144.10,575.37 C153.23,581.64 164.74,587.83 171.50,592.38 C178.26,596.93 182.46,600.97 184.65,602.69" stroke="#06a870" stroke-width="1.3" stroke-dasharray="2.2 2" fill="none" stroke-linejoin="round"/>
<path d="M34.50,659.90 C35.19,655.60 37.24,642.72 38.61,634.13 C39.98,625.54 40.98,616.95 42.72,608.36 C44.46,599.77 46.28,591.18 49.02,582.59 C51.76,574.00 55.64,563.86 59.16,556.81 C62.68,549.77 66.06,544.27 70.12,540.32 C74.18,536.37 78.52,533.10 83.55,533.10 C88.57,533.10 94.73,536.88 100.26,540.32 C105.79,543.76 109.39,548.05 116.70,553.72 C124.01,559.39 134.97,567.72 144.10,574.34 C153.23,580.95 164.74,588.00 171.50,593.41 C178.26,598.82 182.46,604.58 184.65,606.81" stroke="#bf5fee" stroke-width="1.2" stroke-dasharray="1 1.3" fill="none" stroke-linejoin="round"/>
<path d="M34.50,659.90 C35.55,655.60 38.88,642.72 40.80,634.13 C42.72,625.54 44.09,616.95 46.01,608.36 C47.93,599.77 49.71,591.18 52.31,582.59 C54.91,574.00 58.75,563.51 61.63,556.81 C64.50,550.11 65.92,546.33 69.57,542.38 C73.23,538.43 78.43,533.28 83.55,533.10 C88.66,532.93 94.73,537.92 100.26,541.35 C105.79,544.79 109.39,548.48 116.70,553.72 C124.01,558.96 134.97,566.69 144.10,572.79 C153.23,578.89 164.74,585.94 171.50,590.32 C178.26,594.70 182.46,597.62 184.65,599.08" stroke="#f0a020" stroke-width="1.5" stroke-dasharray="3 2.7" fill="none" stroke-linejoin="round"/>
<rect x="68.90" y="615.90" width="135.20" height="35.50" fill="#fff"/>
<path d="M68.90,615.90H204.10" stroke="#b0b0b0" stroke-width="1" fill="none"/>
<path d="M68.90,651.40H204.10" stroke="#555" stroke-width="1" fill="none"/>
<path d="M68.90,615.90V651.40" stroke="#c8c8c8" stroke-width="0.9" fill="none"/>
<path d="M204.10,615.90V651.40" stroke="#666" stroke-width="0.9" fill="none"/>
<path d="M70.20,621.90H90.50" stroke="#303030" stroke-width="1.7" fill="none"/>
<text x="95.50" y="625.10" font-size="9.4">Experimental</text>
<path d="M145.80,621.90H167.60" stroke="#ec5656" stroke-width="0.9" stroke-dasharray="1 1.1" fill="none"/>
<text x="170.00" y="625.10" font-size="9.4">Saenz</text>
<path d="M70.20,633.60H88.50" stroke="#0f5fd8" stroke-width="1.5" stroke-dasharray="5 1.8 1.2 1.8" fill="none"/>
<text x="92.90" y="636.80" font-size="9.4">Sargin</text>
<path d="M145.80,633.60H167.60" stroke="#06a870" stroke-width="1.3" stroke-dasharray="1.9 1.4" fill="none"/>
<text x="170.00" y="636.80" font-size="9.4">Popovics</text>
<path d="M70.20,644.90H88.50" stroke="#bf5fee" stroke-width="1.2" stroke-dasharray="1 1.3" fill="none"/>
<text x="92.90" y="648.10" font-size="9.4">Zhou et al.</text>
<path d="M145.80,644.90H167.60" stroke="#f0a020" stroke-width="1.5" stroke-dasharray="3 2.7" fill="none"/>
<text x="170.00" y="648.10" font-size="9.4">Guo</text>
<path d="M33.85,479.50H253.70" stroke="#333" stroke-width="1.3" fill="none"/>
<path d="M33.85,659.90H253.70" stroke="#999" stroke-width="1.3" fill="none"/>
<path d="M34.50,479.50V659.90" stroke="#777" stroke-width="1.3" fill="none"/>
<path d="M253.70,478.85V660.55" stroke="#333" stroke-width="1.3" fill="none"/>
<path d="M34.50,659.90v-3.00M48.20,659.90v-2.00M61.90,659.90v-3.00M75.60,659.90v-2.00M89.30,659.90v-3.00M103.00,659.90v-2.00M116.70,659.90v-3.00M130.40,659.90v-2.00M144.10,659.90v-3.00M157.80,659.90v-2.00M171.50,659.90v-3.00M185.20,659.90v-2.00M198.90,659.90v-3.00M212.60,659.90v-2.00M226.30,659.90v-3.00M240.00,659.90v-2.00M253.70,659.90v-3.00M34.50,659.90h3.00M34.50,647.01h2.00M34.50,634.13h3.00M34.50,621.24h2.00M34.50,608.36h3.00M34.50,595.47h2.00M34.50,582.59h3.00M34.50,569.70h2.00M34.50,556.81h3.00M34.50,543.93h2.00M34.50,531.04h3.00M34.50,518.16h2.00M34.50,505.27h3.00M34.50,492.39h2.00M34.50,479.50h3.00" stroke="#333" stroke-width="1" fill="none"/>
<text x="30.30" y="662.70" font-size="8.2" text-anchor="end" class="tl2">0</text>
<text x="30.30" y="636.93" font-size="8.2" text-anchor="end" class="tl2">5</text>
<text x="30.30" y="611.16" font-size="8.2" text-anchor="end" class="tl2">10</text>
<text x="30.30" y="585.39" font-size="8.2" text-anchor="end" class="tl2">15</text>
<text x="30.30" y="559.61" font-size="8.2" text-anchor="end" class="tl2">20</text>
<text x="30.30" y="533.84" font-size="8.2" text-anchor="end" class="tl2">25</text>
<text x="30.30" y="508.07" font-size="8.2" text-anchor="end" class="tl2">30</text>
<text x="30.30" y="482.30" font-size="8.2" text-anchor="end" class="tl2">35</text>
<text x="34.50" y="670.60" font-size="8.2" text-anchor="middle" class="tl2">0.000</text>
<text x="61.90" y="670.60" font-size="8.2" text-anchor="middle" class="tl2">0.001</text>
<text x="89.30" y="670.60" font-size="8.2" text-anchor="middle" class="tl2">0.002</text>
<text x="116.70" y="670.60" font-size="8.2" text-anchor="middle" class="tl2">0.003</text>
<text x="144.10" y="670.60" font-size="8.2" text-anchor="middle" class="tl2">0.004</text>
<text x="171.50" y="670.60" font-size="8.2" text-anchor="middle" class="tl2">0.005</text>
<text x="198.90" y="670.60" font-size="8.2" text-anchor="middle" class="tl2">0.006</text>
<text x="226.30" y="670.60" font-size="8.2" text-anchor="middle" class="tl2">0.007</text>
<text x="253.70" y="670.60" font-size="8.2" text-anchor="middle" class="tl2">0.008</text>
<text transform="translate(14.60,566.90) rotate(-90)" font-size="10.4" text-anchor="middle">Stress (MPa)</text>
<text x="144.30" y="686.90" font-size="10.3" text-anchor="middle">Strain</text>
<text x="134.60" y="703.60" font-size="12" text-anchor="middle">(<tspan font-weight="bold">e</tspan>)</text>
<rect x="311.40" y="479.20" width="226.30" height="182.30" fill="#fff"/>
<path d="M311.40,635.46H537.70M311.40,609.41H537.70M311.40,583.37H537.70M311.40,557.33H537.70M311.40,531.29H537.70M311.40,505.24H537.70" stroke="#e0e0e0" stroke-width="1.0" stroke-dasharray="3 1.4" fill="none"/>
<path d="M339.69,479.20V661.50M367.98,479.20V661.50M396.26,479.20V661.50M424.55,479.20V661.50M452.84,479.20V661.50M481.12,479.20V661.50M509.41,479.20V661.50" stroke="#ababab" stroke-width="1.0" stroke-dasharray="3 1.4" fill="none"/>
<path d="M311.40,661.50 C312.30,657.16 315.12,643.79 316.77,635.46 C318.42,627.12 320.07,617.40 321.30,611.50 C322.53,605.59 322.90,604.38 324.13,600.04 C325.36,595.70 327.15,589.71 328.66,585.45 C330.16,581.20 331.67,577.73 333.18,574.52 C334.69,571.30 336.34,568.61 337.71,566.18 C339.07,563.75 339.88,561.76 341.38,559.93 C342.89,558.11 344.31,557.07 346.76,555.25 C349.21,553.42 353.22,550.73 356.09,548.99 C358.97,547.26 361.28,545.96 364.01,544.83 C366.75,543.70 369.81,542.40 372.50,542.22 C375.19,542.05 378.16,542.83 380.14,543.79 C382.12,544.74 382.64,546.48 384.38,547.95 C386.13,549.43 388.62,550.90 390.61,552.64 C392.59,554.38 392.96,555.16 396.26,558.37 C399.56,561.58 405.69,568.35 410.41,571.91 C415.12,575.47 419.84,577.12 424.55,579.73 C429.26,582.33 433.98,584.85 438.69,587.54 C443.41,590.23 447.75,593.35 452.84,595.87 C457.93,598.39 464.53,600.04 469.24,602.64 C473.96,605.25 477.73,609.41 481.12,611.50 C484.52,613.58 486.12,613.84 489.61,615.14 C493.10,616.45 499.98,618.62 502.06,619.31" stroke="#303030" stroke-width="1.9" fill="none" stroke-linejoin="round"/>
<path d="M311.40,661.50 C312.39,657.16 315.50,643.27 317.34,635.46 C319.18,627.64 320.88,620.53 322.43,614.62 C323.99,608.72 324.93,605.33 326.68,600.04 C328.42,594.74 330.97,587.89 332.90,582.85 C334.83,577.82 336.29,573.48 338.27,569.83 C340.25,566.18 342.61,563.32 344.78,560.97 C346.95,558.63 348.08,558.37 351.29,555.77 C354.49,553.16 360.48,547.61 364.01,545.35 C367.55,543.09 369.48,542.66 372.50,542.22 C375.52,541.79 378.16,542.14 382.12,542.74 C386.08,543.35 389.19,543.96 396.26,545.87 C403.33,547.78 415.12,551.34 424.55,554.20 C433.98,557.07 443.41,559.85 452.84,563.06 C462.27,566.27 472.92,570.52 481.12,573.48 C489.33,576.43 498.57,579.55 502.06,580.77" stroke="#ec5656" stroke-width="0.9" stroke-dasharray="1 1.1" fill="none" stroke-linejoin="round"/>
<path d="M311.40,661.50 C312.39,657.16 315.45,643.27 317.34,635.46 C319.23,627.64 321.11,620.53 322.71,614.62 C324.32,608.72 325.21,605.33 326.96,600.04 C328.70,594.74 331.25,587.89 333.18,582.85 C335.11,577.82 336.58,573.48 338.56,569.83 C340.54,566.18 342.89,563.32 345.06,560.97 C347.23,558.63 348.41,558.37 351.57,555.77 C354.73,553.16 360.53,547.61 364.01,545.35 C367.50,543.09 369.48,542.48 372.50,542.22 C375.52,541.96 378.16,542.40 382.12,543.79 C386.08,545.18 389.19,546.48 396.26,550.56 C403.33,554.64 415.12,561.06 424.55,568.27 C433.98,575.47 443.41,585.72 452.84,593.79 C462.27,601.86 472.92,610.72 481.12,616.71 C489.33,622.70 498.57,627.56 502.06,629.73" stroke="#0f5fd8" stroke-width="1.5" stroke-dasharray="5 1.8 1.2 1.8" fill="none" stroke-linejoin="round"/>
<path d="M311.40,661.50 C312.67,657.16 316.40,644.14 319.04,635.46 C321.68,626.78 325.12,615.66 327.24,609.41 C329.36,603.16 329.88,602.56 331.77,597.96 C333.65,593.35 336.34,586.58 338.56,581.81 C340.77,577.03 342.89,572.95 345.06,569.31 C347.23,565.66 349.59,562.88 351.57,559.93 C353.55,556.98 354.68,554.12 356.94,551.60 C359.21,549.08 362.55,546.39 365.15,544.83 C367.74,543.27 369.67,542.40 372.50,542.22 C375.33,542.05 378.16,542.40 382.12,543.79 C386.08,545.18 389.19,546.91 396.26,550.56 C403.33,554.20 415.12,560.80 424.55,565.66 C433.98,570.52 443.41,575.30 452.84,579.73 C462.27,584.15 472.92,588.67 481.12,592.23 C489.33,595.79 498.57,599.60 502.06,601.08" stroke="#06a870" stroke-width="1.3" stroke-dasharray="2.2 2" fill="none" stroke-linejoin="round"/>
<path d="M311.40,661.50 C312.34,657.16 315.22,643.27 317.06,635.46 C318.90,627.64 320.88,620.53 322.43,614.62 C323.99,608.72 324.74,605.33 326.39,600.04 C328.04,594.74 330.45,587.89 332.33,582.85 C334.22,577.82 335.73,573.48 337.71,569.83 C339.69,566.18 342.00,563.41 344.21,560.97 C346.43,558.54 347.75,557.85 351.00,555.25 C354.26,552.64 360.15,547.52 363.73,545.35 C367.31,543.18 369.44,542.57 372.50,542.22 C375.57,541.88 378.16,542.31 382.12,543.27 C386.08,544.22 389.19,544.83 396.26,547.95 C403.33,551.08 415.12,557.15 424.55,562.02 C433.98,566.88 443.41,571.83 452.84,577.12 C462.27,582.42 472.92,588.93 481.12,593.79 C489.33,598.65 498.57,604.21 502.06,606.29" stroke="#bf5fee" stroke-width="1.2" stroke-dasharray="1 1.3" fill="none" stroke-linejoin="round"/>
<path d="M311.40,661.50 C312.34,657.16 315.27,643.70 317.06,635.46 C318.85,627.21 320.50,617.92 322.15,612.02 C323.80,606.12 325.36,604.64 326.96,600.04 C328.56,595.44 330.12,589.36 331.77,584.41 C333.42,579.46 335.26,574.26 336.86,570.35 C338.46,566.44 339.73,563.49 341.38,560.97 C343.03,558.46 344.31,557.33 346.76,555.25 C349.21,553.16 353.22,550.21 356.09,548.47 C358.97,546.74 361.28,545.87 364.01,544.83 C366.75,543.79 369.48,542.14 372.50,542.22 C375.52,542.31 378.16,543.35 382.12,545.35 C386.08,547.35 391.55,550.38 396.26,554.20 C400.98,558.02 405.69,564.01 410.41,568.27 C415.12,572.52 419.84,576.25 424.55,579.73 C429.26,583.20 433.98,585.98 438.69,589.10 C443.41,592.23 448.12,595.79 452.84,598.48 C457.55,601.17 462.27,603.08 466.98,605.25 C471.70,607.42 475.28,609.41 481.12,611.50 C486.97,613.58 498.57,616.71 502.06,617.75" stroke="#f0a020" stroke-width="1.7" stroke-dasharray="3 2.7" fill="none" stroke-linejoin="round"/>
<rect x="330.20" y="615.50" width="140.20" height="39.70" fill="#fff"/>
<path d="M330.20,655.20H470.40" stroke="#808080" stroke-width="1" fill="none"/>
<path d="M470.40,617.80V655.20" stroke="#777" stroke-width="0.9" fill="none"/>
<path d="M331.30,625.80H352.70" stroke="#303030" stroke-width="2.4" fill="none"/>
<text x="358.10" y="629.00" font-size="9.4">Experimental</text>
<path d="M410.50,625.80H432.20" stroke="#ec5656" stroke-width="0.9" stroke-dasharray="1 1.1" fill="none"/>
<text x="434.70" y="629.00" font-size="9.4">Saenz</text>
<path d="M331.30,637.60H350.50" stroke="#0f5fd8" stroke-width="1.5" stroke-dasharray="5 1.8 1.2 1.8" fill="none"/>
<text x="355.60" y="640.80" font-size="9.4">Sargin</text>
<path d="M410.50,637.60H432.20" stroke="#06a870" stroke-width="1.3" stroke-dasharray="1.9 1.4" fill="none"/>
<text x="434.70" y="640.80" font-size="9.4">Popovics</text>
<path d="M331.30,648.60H350.50" stroke="#bf5fee" stroke-width="1.5" stroke-dasharray="1.2 1.2" fill="none"/>
<text x="355.60" y="651.80" font-size="9.4">Zhou et al.</text>
<path d="M410.50,648.60H432.20" stroke="#f0a020" stroke-width="2.3" stroke-dasharray="4 2.3" fill="none"/>
<text x="434.70" y="651.80" font-size="9.4">Guo</text>
<path d="M310.75,479.20H537.70" stroke="#333" stroke-width="1.3" fill="none"/>
<path d="M310.75,661.50H537.70" stroke="#888" stroke-width="1.3" fill="none"/>
<path d="M311.40,479.20V661.50" stroke="#555" stroke-width="1.3" fill="none"/>
<path d="M537.70,478.55V662.15" stroke="#333" stroke-width="1.3" fill="none"/>
<path d="M311.40,661.50v-3.00M325.54,661.50v-2.00M339.69,661.50v-3.00M353.83,661.50v-2.00M367.98,661.50v-3.00M382.12,661.50v-2.00M396.26,661.50v-3.00M410.41,661.50v-2.00M424.55,661.50v-3.00M438.69,661.50v-2.00M452.84,661.50v-3.00M466.98,661.50v-2.00M481.12,661.50v-3.00M495.27,661.50v-2.00M509.41,661.50v-3.00M523.56,661.50v-2.00M537.70,661.50v-3.00M311.40,661.50h3.00M311.40,648.48h2.00M311.40,635.46h3.00M311.40,622.44h2.00M311.40,609.41h3.00M311.40,596.39h2.00M311.40,583.37h3.00M311.40,570.35h2.00M311.40,557.33h3.00M311.40,544.31h2.00M311.40,531.29h3.00M311.40,518.26h2.00M311.40,505.24h3.00M311.40,492.22h2.00M311.40,479.20h3.00" stroke="#333" stroke-width="1" fill="none"/>
<text x="307.10" y="664.30" font-size="8.2" text-anchor="end" class="tl2">0</text>
<text x="307.10" y="638.26" font-size="8.2" text-anchor="end" class="tl2">5</text>
<text x="307.10" y="612.21" font-size="8.2" text-anchor="end" class="tl2">10</text>
<text x="307.10" y="586.17" font-size="8.2" text-anchor="end" class="tl2">15</text>
<text x="307.10" y="560.13" font-size="8.2" text-anchor="end" class="tl2">20</text>
<text x="307.10" y="534.09" font-size="8.2" text-anchor="end" class="tl2">25</text>
<text x="307.10" y="508.04" font-size="8.2" text-anchor="end" class="tl2">30</text>
<text x="307.10" y="482.00" font-size="8.2" text-anchor="end" class="tl2">35</text>
<text x="311.40" y="672.90" font-size="8.2" text-anchor="middle" class="tl2">0.000</text>
<text x="339.69" y="672.90" font-size="8.2" text-anchor="middle" class="tl2">0.001</text>
<text x="367.98" y="672.90" font-size="8.2" text-anchor="middle" class="tl2">0.002</text>
<text x="396.26" y="672.90" font-size="8.2" text-anchor="middle" class="tl2">0.003</text>
<text x="424.55" y="672.90" font-size="8.2" text-anchor="middle" class="tl2">0.004</text>
<text x="452.84" y="672.90" font-size="8.2" text-anchor="middle" class="tl2">0.005</text>
<text x="481.12" y="672.90" font-size="8.2" text-anchor="middle" class="tl2">0.006</text>
<text x="509.41" y="672.90" font-size="8.2" text-anchor="middle" class="tl2">0.007</text>
<text x="537.70" y="672.90" font-size="8.2" text-anchor="middle" class="tl2">0.008</text>
<text transform="translate(291.40,567.30) rotate(-90)" font-size="10.4" text-anchor="middle">Stress (MPa)</text>
<text x="424.50" y="688.40" font-size="10.3" text-anchor="middle">Strain</text>
<text x="414.85" y="702.90" font-size="12" text-anchor="middle">(<tspan font-weight="bold">f</tspan>)</text>
</g>
</svg>
</body></html>
